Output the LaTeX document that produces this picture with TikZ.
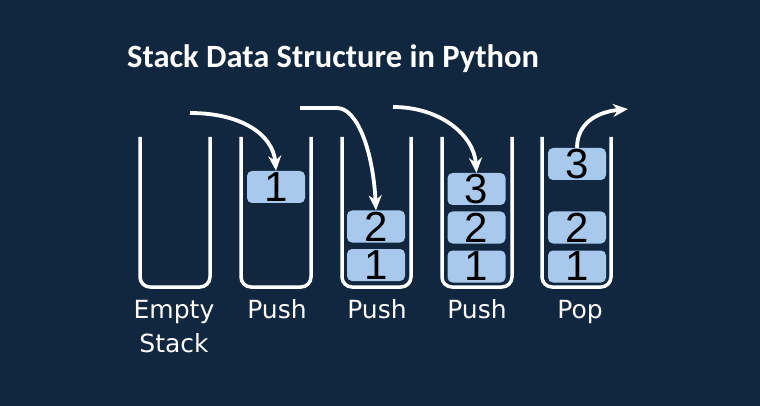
\documentclass[tikz,border=0pt]{standalone}
\usepackage{fontspec}
\setmainfont{DejaVu Sans}
\newfontfamily\titlefont{Carlito}
\newfontfamily\digitfont{Liberation Sans}
\usetikzlibrary{arrows.meta}
\definecolor{bg}{HTML}{10273F}
\definecolor{boxblue}{HTML}{A9C9EC}
\tikzset{
  cont/.style={draw=white, line width=3.5pt, rounded corners=10pt},
  item/.style={rectangle, fill=boxblue, rounded corners=5pt, minimum width=58pt, minimum height=32pt, inner sep=0pt, text=black, font=\digitfont\fontsize{42}{42}\selectfont},
  lbl/.style={text=white, anchor=base, align=center, inner sep=0pt, font=\fontsize{25}{34}\selectfont},
  flow/.style={draw=white, line width=3.8pt, -{Stealth[length=15pt,width=13pt]}}
}
\begin{document}
\begin{tikzpicture}[x=1pt,y=-1pt]
\fill[bg] (0,0) rectangle (760,406);
\useasboundingbox (0,0) rectangle (760,406);
% title
\node[anchor=base west, text=white, inner sep=0pt, font=\titlefont\bfseries\fontsize{32.5}{32.5}\selectfont] (title) at (127,68) {Stack Data Structure in Python};
% containers
\draw[cont] (140,137) -- (140,287) -- (210,287) -- (210,137);
\draw[cont] (241,137) -- (241,287) -- (311,287) -- (311,137);
\draw[cont] (342,137) -- (342,287) -- (411,287) -- (411,137);
\draw[cont] (442,137) -- (442,287) -- (512,287) -- (512,137);
\draw[cont] (542,137) -- (542,287) -- (611,287) -- (611,137);
% items
\node[item] (b2a) at (276,187) {1};
\node[item] (b3b) at (376,226.5) {2};
\node[item] (b3a) at (376,265) {1};
\node[item] (b4c) at (476.5,189) {3};
\node[item] (b4b) at (476.5,227.5) {2};
\node[item] (b4a) at (476.5,266.5) {1};
\node[item] (b5c) at (577,164) {3};
\node[item] (b5b) at (577,227.5) {2};
\node[item] (b5a) at (577,266.5) {1};
% arrows
\coordinate (s1) at (190,113);
\coordinate (s2) at (300,108);
\coordinate (s2b) at (337,108);
\coordinate (s3) at (393,107);
\coordinate (e4) at (628,109);
\draw[flow] (s1) .. controls (242,113) and (273,135) .. (b2a.north);
\draw[flow] (s2) -- (s2b) .. controls (357,108) and (373,150) .. (b3b.north);
\draw[flow] (s3) .. controls (440,107) and (474,135) .. (b4c.north);
\draw[flow] (b5c.north) .. controls (577,124) and (596,112) .. (e4);
% labels
\node[lbl] (l1) at (174,352) {Empty\\Stack};
\node[lbl] (l2) at (277,318) {Push};
\node[lbl] (l3) at (377,318) {Push};
\node[lbl] (l4) at (477,318) {Push};
\node[lbl] (l5) at (580,318) {Pop};
\end{tikzpicture}
\end{document}
